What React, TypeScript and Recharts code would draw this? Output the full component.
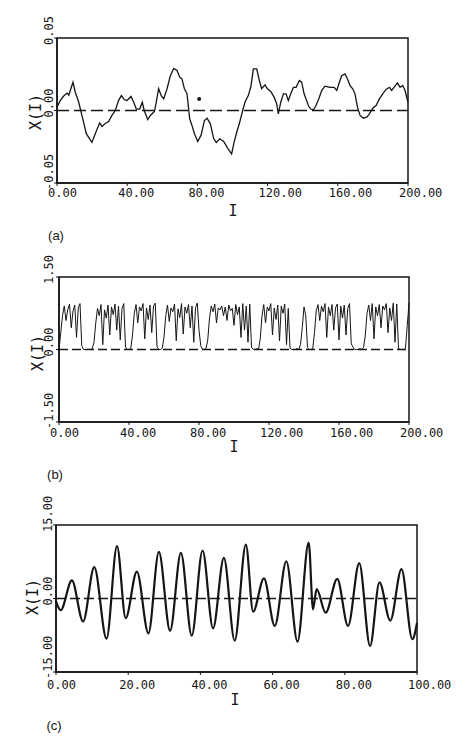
import React from "react";
import { LineChart, Line, XAxis, YAxis, ReferenceLine, ReferenceArea, ReferenceDot } from "recharts";

const aIndex = [
  0, 1.9, 3.8, 5.7, 6.7, 9.1, 10.4, 12.3, 14.2, 16.7, 19.9, 21.8, 24.3, 25.6, 27.5, 29.4, 31.3, 33.2, 35.1, 36.7,
  38.4, 39.9, 42.2, 43.7, 45.2, 47.1, 48.6, 49.7, 51.7, 53.2, 55.5, 56.6, 57.9, 59.4, 60.8, 62.7, 64.6, 66.5, 68.4, 69.9,
  71.2, 72.6, 74.1, 75.6, 76.9, 78.3, 80.2, 82.1, 84.0, 85.5, 87.4, 89.3, 90.8, 92.7, 95.0, 97.2, 99.5, 100.9, 102.4, 103.9,
  105.8, 107.1, 109.0, 110.4, 111.9, 113.8, 115.3, 116.6, 118.5, 119.9, 121.8, 123.7, 125.2, 126.1, 127.5, 129.0, 130.5, 131.8, 133.2, 134.7,
  136.2, 138.1, 139.4, 140.8, 141.9, 143.2, 144.6, 146.1, 147.6, 149.5, 150.8, 152.7, 155.6, 157.9, 159.4, 160.9, 162.2, 164.1, 165.5, 167.0,
  168.5, 169.8, 171.2, 172.7, 174.6, 176.5, 178.0, 179.9, 181.8, 183.7, 185.6, 187.5, 189.4, 190.7, 192.0, 194.0, 195.5, 197.0, 198.3, 200,
];
const aValue = [
  0.0023, 0.007, 0.01, 0.012, 0.0105, 0.0195, 0.0126, 0.006, -0.0034, -0.016, -0.022, -0.016, -0.0085, -0.011, -0.009, -0.0076, -0.0034, 0.0, 0.007, 0.0103,
  0.0074, 0.0069, 0.0097, 0.0057, 0.001, 0.001, 0.0057, 0.0, -0.0062, -0.0034, -0.0007, 0.006, 0.015, 0.0103, 0.008, 0.015, 0.024, 0.029, 0.0276, 0.023,
  0.0218, 0.015, 0.0115, -0.0057, -0.0103, -0.016, -0.0214, -0.017, -0.0069, -0.0053, -0.0092, -0.0195, -0.022, -0.0195, -0.0214, -0.026, -0.03, -0.022, -0.015, -0.009,
  0.0, 0.0057, 0.0103, 0.016, 0.0287, 0.0287, 0.0207, 0.015, 0.0177, 0.015, 0.0131, 0.0092, 0.0046, -0.0023, 0.0057, 0.0115, 0.0115, 0.0069, 0.0115, 0.016,
  0.016, 0.0207, 0.0195, 0.0115, 0.008, 0.0034, 0.001, 0.0005, 0.0034, 0.0092, 0.0138, 0.0168, 0.016, 0.016, 0.0138, 0.0195, 0.024, 0.0253, 0.0218, 0.0172,
  0.015, 0.0115, 0.0023, -0.0034, -0.0053, -0.0046, -0.0023, 0.0016, 0.0034, 0.008, 0.0115, 0.0145, 0.016, 0.0138, 0.016, 0.019, 0.016, 0.0172, 0.0138, 0.0057,
];
const aDot = { i: 81, x: 0.008 };

// (b) one value per step, I = 0..200
const bValue = [
  0.0, 0.35, 0.7, 0.9, 0.6, 0.82, 0.94, 0.45, 0.8, 0.92, 0.25, 0.86, 0.95, 0.08, 0.0, 0.0, 0.0, 0.0, 0.0, 0.02,
  0.15, 0.55, 0.85, 0.7, 0.93, 0.1, 0.82, 0.65, 0.92, 0.3, 0.88, 0.72, 0.94, 0.4, 0.9, 0.2, 0.85, 0.95, 0.05, 0.0,
  0.0, 0.02, 0.3, 0.75, 0.93, 0.55, 0.88, 0.8, 0.95, 0.22, 0.86, 0.62, 0.92, 0.35, 0.9, 0.96, 0.06, 0.0, 0.0, 0.03,
  0.25, 0.7, 0.92, 0.58, 0.86, 0.78, 0.94, 0.18, 0.84, 0.66, 0.95, 0.32, 0.88, 0.75, 0.93, 0.45, 0.9, 0.15, 0.86, 0.96,
  0.4, 0.08, 0.0, 0.0, 0.02, 0.2, 0.65, 0.9, 0.78, 0.94, 0.55, 0.86, 0.82, 0.9, 0.7, 0.88, 0.6, 0.92, 0.8, 0.85,
  0.5, 0.93, 0.72, 0.88, 0.25, 0.95, 0.4, 0.9, 0.15, 0.94, 0.05, 0.0, 0.0, 0.02, 0.0, 0.22, 0.7, 0.93, 0.55, 0.88,
  0.8, 0.95, 0.3, 0.86, 0.62, 0.92, 0.18, 0.9, 0.75, 0.94, 0.1, 0.85, 0.03, 0.0, 0.0, 0.0, 0.02, 0.0, 0.1, 0.45,
  0.88, 0.7, 0.04, 0.0, 0.0, 0.02, 0.35, 0.8, 0.93, 0.6, 0.9, 0.78, 0.95, 0.25, 0.88, 0.7, 0.93, 0.4, 0.86, 0.94,
  0.2, 0.9, 0.65, 0.92, 0.3, 0.85, 0.95, 0.12, 0.05, 0.0, 0.0, 0.0, 0.02, 0.0, 0.04, 0.28, 0.75, 0.92, 0.6, 0.95,
  0.22, 0.88, 0.7, 0.93, 0.45, 0.9, 0.82, 0.95, 0.35, 0.86, 0.6, 0.96, 0.15, 0.94, 0.02, 0.0, 0.0, 0.0, 0.03, 0.5, 0.96,
];

// (c) turning points of the oscillation
const cIndex = [
  0, 1.3, 4.4, 7.5, 10.6, 14.0, 16.9, 19.3, 22.4, 25.6, 28.5, 31.6, 34.6, 37.6, 40.6, 43.5, 46.5, 49.5, 52.6,
  54.6, 57.6, 60.6, 63.8, 66.9, 70.0, 71.2, 72.2, 74.7, 77.9, 80.9, 84.0, 87.0, 89.6, 92.6, 95.7, 98.7, 100,
];
const cValue = [
  -0.6, -2.4, 3.7, -4.7, 6.4, -8.2, 10.7, -4.0, 5.5, -7.1, 9.5, -6.6, 9.3, -7.6, 9.8, -6.1, 8.3, -8.6, 11.0,
  -2.7, 4.1, -5.6, 7.6, -8.8, 11.4, -2.2, 1.9, -2.9, 4.0, -5.6, 7.2, -9.7, 3.3, -4.5, 6.0, -8.3, -5.0,
];

const ticks200 = [0, 40, 80, 120, 160, 200];
const ticks100 = [0, 20, 40, 60, 80, 100];
const aTicksY = [-0.05, 0, 0.05];
const bTicksY = [-1.5, 0, 1.5];
const cTicksY = [-15, 0, 15];

const aData = aIndex.map((i, k) => ({ i, x: aValue[k] }));
const bData = bValue.map((x, i) => ({ i, x }));
const cData = cIndex.map((i, k) => ({ i, x: cValue[k] }));

const W = 474;
const MONO = "'DejaVu Sans Mono', monospace";
const INK = "#151515";

type Box = { left: number; right: number; top: number; bottom: number };

interface PanelProps {
  box: Box;
  data: { i: number; x: number }[];
  xDomain: [number, number];
  xTicks: number[];
  yDomain: [number, number];
  yTicks: number[];
  dash: string;
  sw: number;
  curve: "linear" | "monotone";
  tickDy: number;
  yTickX: number;
  dot?: { i: number; x: number };
}

function Panel({ box, data, xDomain, xTicks, yDomain, yTicks, dash, sw, curve, tickDy, yTickX, dot }: PanelProps) {
  const top = box.top - 40;
  const height = box.bottom + 45 - top;
  const baseY = box.bottom - top + tickDy;

  return (
    <div style={{ position: "absolute", left: 0, top, width: W, height }}>
      <LineChart width={W} height={height} data={data}
        margin={{ top: 40, right: W - box.right, left: 0, bottom: 0 }}>
        <XAxis dataKey="i" type="number" domain={xDomain} ticks={xTicks} height={45}
          axisLine={{ stroke: INK, strokeWidth: 1.5 }} tickLine={{ stroke: INK }} tickSize={3}
          tick={(p: any) => (
            <text x={p.x - 9} y={baseY} textAnchor="start" fontFamily={MONO} fontSize={12} fill={INK}>
              {Number(p.payload.value).toFixed(2)}
            </text>
          )} />
        <YAxis type="number" domain={yDomain} ticks={yTicks} width={box.left}
          axisLine={{ stroke: INK, strokeWidth: 1.5 }} tickLine={{ stroke: INK }} tickSize={3}
          tick={(p: any) => (
            <text x={yTickX} y={p.y + 7} transform={`rotate(-90 ${yTickX} ${p.y + 7})`}
              textAnchor="start" dominantBaseline="central" fontFamily={MONO} fontSize={12} fill={INK}>
              {Number(p.payload.value).toFixed(2)}
            </text>
          )} />
        <ReferenceArea x1={xDomain[0]} x2={xDomain[1]} y1={yDomain[0]} y2={yDomain[1]}
          fill="none" stroke={INK} strokeWidth={1.5} />
        <Line type={curve} dataKey="x" stroke={INK} strokeWidth={sw} dot={false} isAnimationActive={false} />
        <ReferenceLine y={0} stroke={INK} strokeWidth={1.4} strokeDasharray={dash} />
        {dot && <ReferenceDot x={dot.i} y={dot.x} r={2} fill={INK} stroke="none" />}
      </LineChart>
    </div>
  );
}

const txt = (left: number, top: number, s: string, font: string, size: number, rot = false) => (
  <div style={{
    position: "absolute", left, top, fontFamily: font, fontSize: size, color: INK, lineHeight: 1,
    whiteSpace: "nowrap", transform: `translate(-50%, -50%)${rot ? " rotate(-90deg)" : ""}`,
  }}>{s}</div>
);

export default function App() {
  return (
    <div style={{ position: "absolute", left: 0, top: 0, width: W, height: 746, background: "#fff", overflow: "hidden" }}>
      <Panel box={{ left: 57, right: 408, top: 38, bottom: 183 }} data={aData} xDomain={[0, 200]} xTicks={ticks200}
        yDomain={[-0.05, 0.05]} yTicks={aTicksY} dash="12 5" sw={1.3} curve="linear" tickDy={14} yTickX={49} dot={aDot} />
      <Panel box={{ left: 59, right: 409, top: 277, bottom: 422 }} data={bData} xDomain={[0, 200]} xTicks={ticks200}
        yDomain={[-1.5, 1.5]} yTicks={bTicksY} dash="9 4" sw={1} curve="linear" tickDy={15} yTickX={49} />
      <Panel box={{ left: 56, right: 417, top: 525, bottom: 672 }} data={cData} xDomain={[0, 100]} xTicks={ticks100}
        yDomain={[-15, 15]} yTicks={cTicksY} dash="10 4" sw={2.2} curve="monotone" tickDy={17} yTickX={47.5} />

      {txt(35.5, 112, "X(I)", MONO, 15, true)}
      {txt(37.5, 353, "X(I)", MONO, 15, true)}
      {txt(32.5, 597, "X(I)", MONO, 15, true)}

      {txt(233, 211, "I", MONO, 15)}
      {txt(234, 447, "I", MONO, 15)}
      {txt(235, 700, "I", MONO, 15)}

      {txt(56, 235, "(a)", "'Liberation Sans', Arial, sans-serif", 13)}
      {txt(55, 474, "(b)", "'Liberation Sans', Arial, sans-serif", 13)}
      {txt(54, 725, "(c)", "'Liberation Sans', Arial, sans-serif", 13)}
    </div>
  );
}
